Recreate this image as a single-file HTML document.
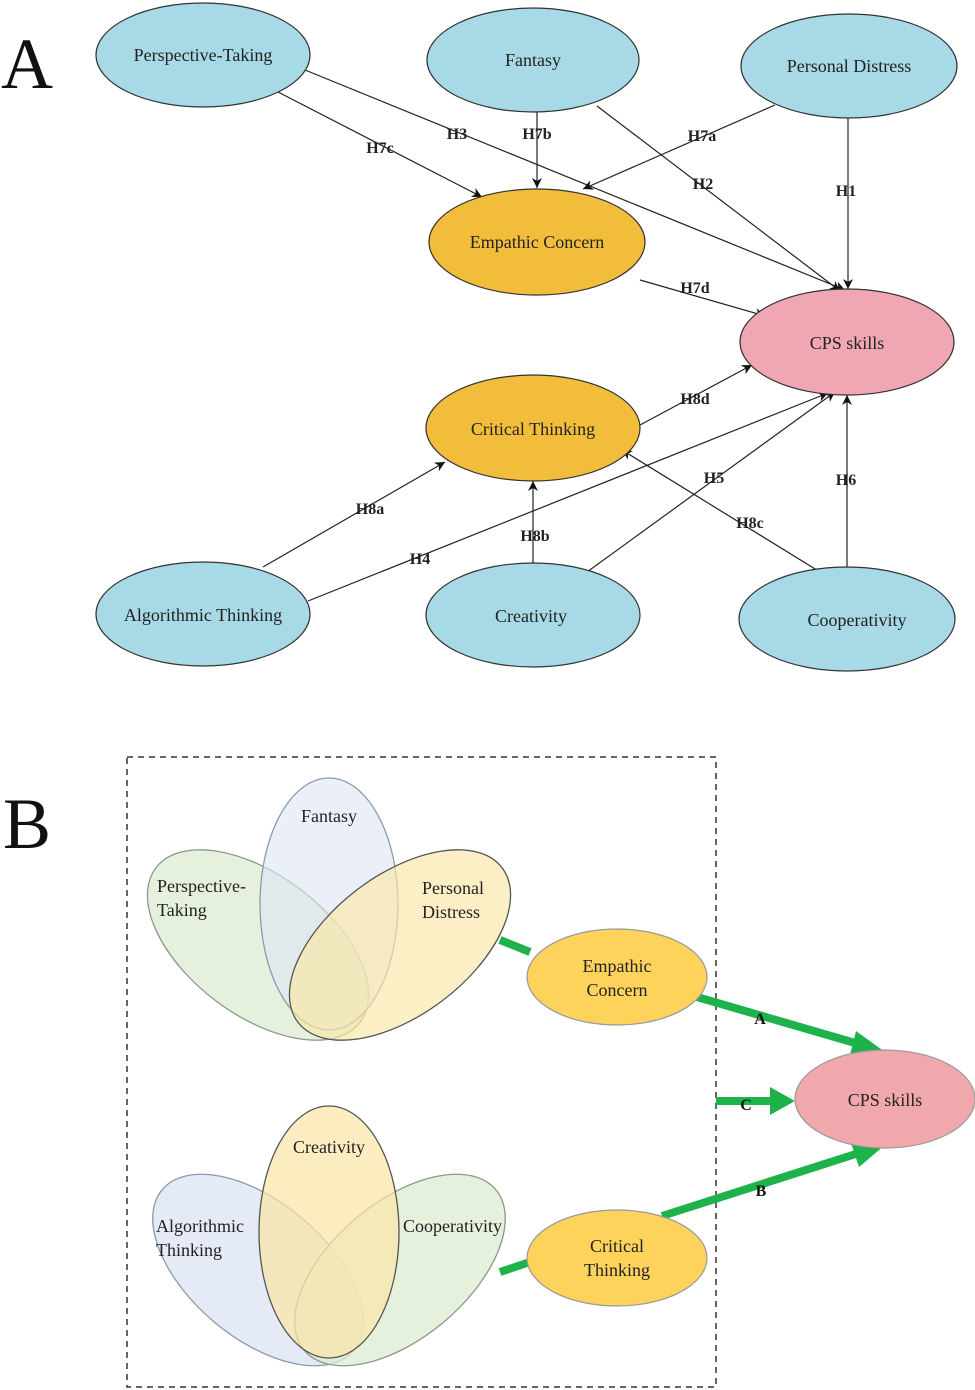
<!DOCTYPE html>
<html><head><meta charset="utf-8"><style>
html,body{margin:0;padding:0;background:#fff;}
svg{display:block;}
text{font-family:"Liberation Serif",serif;}
</style></head><body>
<svg width="975" height="1390" viewBox="0 0 975 1390" xmlns="http://www.w3.org/2000/svg">
<defs>
<marker id="ar" viewBox="0 0 10 10" refX="10" refY="5" markerWidth="10" markerHeight="10" markerUnits="userSpaceOnUse" orient="auto">
<path d="M0,0 L10,5 L0,10 L3,5 z" fill="#111"/>
</marker>
</defs>
<text x="27" y="88" font-size="72" text-anchor="middle" fill="#111">A</text>
<text x="27" y="848" font-size="72" text-anchor="middle" fill="#111">B</text>

<g stroke="#222" stroke-width="1.2" fill="none" marker-end="url(#ar)">
<line x1="278" y1="92" x2="482" y2="197"/>
<line x1="305" y1="70" x2="845" y2="290"/>
<line x1="537" y1="112" x2="537" y2="188"/>
<line x1="597" y1="106" x2="840" y2="291"/>
<line x1="775" y1="105" x2="583" y2="189"/>
<line x1="848" y1="118" x2="848" y2="289"/>
<line x1="640" y1="280" x2="765" y2="316"/>
<line x1="640" y1="425" x2="752" y2="365"/>
<line x1="308" y1="601" x2="828" y2="393"/>
<line x1="587" y1="572" x2="835" y2="392"/>
<line x1="847" y1="568" x2="847" y2="395"/>
<line x1="820" y1="572" x2="622" y2="450"/>
<line x1="533" y1="563" x2="533" y2="481"/>
<line x1="263" y1="567" x2="445" y2="462"/>
</g>

<g stroke="#333" stroke-width="1.2">
<ellipse cx="203" cy="55" rx="107" ry="52" fill="#a7d9e6"/>
<ellipse cx="533" cy="60" rx="106" ry="52" fill="#a7d9e6"/>
<ellipse cx="849" cy="66" rx="108" ry="52" fill="#a7d9e6"/>
<ellipse cx="537" cy="242" rx="108" ry="53" fill="#f2bd3b"/>
<ellipse cx="847" cy="342" rx="107" ry="53" fill="#f0a7b3"/>
<ellipse cx="533" cy="428" rx="107" ry="53" fill="#f2bd3b"/>
<ellipse cx="203" cy="614" rx="107" ry="52" fill="#a7d9e6"/>
<ellipse cx="533" cy="615" rx="107" ry="52" fill="#a7d9e6"/>
<ellipse cx="847" cy="619" rx="108" ry="52" fill="#a7d9e6"/>
</g>
<g font-size="18" text-anchor="middle" fill="#222">
<text x="203" y="61">Perspective-Taking</text>
<text x="533" y="66">Fantasy</text>
<text x="849" y="72">Personal Distress</text>
<text x="537" y="248">Empathic Concern</text>
<text x="847" y="349">CPS skills</text>
<text x="533" y="435">Critical Thinking</text>
<text x="203" y="621">Algorithmic Thinking</text>
<text x="531" y="622">Creativity</text>
<text x="857" y="626">Cooperativity</text>
</g>
<g font-size="16" font-weight="bold" text-anchor="middle" fill="#222">
<text x="380" y="153">H7c</text>
<text x="457" y="139">H3</text>
<text x="537" y="139">H7b</text>
<text x="702" y="141">H7a</text>
<text x="703" y="189">H2</text>
<text x="846" y="196">H1</text>
<text x="695" y="293">H7d</text>
<text x="695" y="404">H8d</text>
<text x="714" y="483">H5</text>
<text x="846" y="485">H6</text>
<text x="370" y="514">H8a</text>
<text x="750" y="528">H8c</text>
<text x="535" y="541">H8b</text>
<text x="420" y="564">H4</text>
</g>

<!-- Part B -->
<rect x="127" y="757" width="589" height="630" fill="none" stroke="#333" stroke-width="1.5" stroke-dasharray="6,5"/>

<g stroke-width="1.3">
<ellipse cx="258" cy="945" rx="128" ry="70" transform="rotate(37 258 945)" fill="#dcecd0" fill-opacity="0.75" stroke="#8a9a88"/>
<ellipse cx="329" cy="904" rx="69" ry="126" fill="#dde6f4" fill-opacity="0.6" stroke="#8a9ab0"/>
<ellipse cx="400" cy="945" rx="128" ry="70" transform="rotate(-37 400 945)" fill="#fbe6a6" fill-opacity="0.65" stroke="#555"/>

<ellipse cx="258" cy="1270" rx="125" ry="68" transform="rotate(40 258 1270)" fill="#dde6f4" fill-opacity="0.8" stroke="#8a9ab0"/>
<ellipse cx="400" cy="1270" rx="125" ry="68" transform="rotate(-40 400 1270)" fill="#dcecd0" fill-opacity="0.75" stroke="#8a9a88"/>
<ellipse cx="329" cy="1232" rx="70" ry="126" fill="#fbe6a6" fill-opacity="0.7" stroke="#555"/>
</g>

<g stroke="#1db34a" stroke-width="8" fill="#1db34a">
<line x1="500" y1="940" x2="530" y2="952"/>
<line x1="500" y1="1272" x2="530" y2="1262"/>
<line x1="697" y1="997" x2="862" y2="1045"/>
<line x1="716" y1="1101" x2="775" y2="1101"/>
<line x1="662" y1="1216" x2="862" y2="1152"/>
</g>
<g fill="#1db34a">
<polygon points="885,1052 856,1031 849,1059"/>
<polygon points="795,1101 770,1087 770,1115"/>
<polygon points="885,1145 850,1140 859,1167"/>
</g>

<g stroke="#999" stroke-width="1.2">
<ellipse cx="617" cy="977" rx="90" ry="48" fill="#fdd35c"/>
<ellipse cx="885" cy="1099" rx="90" ry="49" fill="#f0a8ad"/>
<ellipse cx="617" cy="1258" rx="90" ry="48" fill="#fdd35c"/>
</g>

<g font-size="18" text-anchor="middle" fill="#222">
<text x="329" y="822">Fantasy</text>
<text x="157" y="892" text-anchor="start">Perspective-</text>
<text x="157" y="916" text-anchor="start">Taking</text>
<text x="422" y="894" text-anchor="start">Personal</text>
<text x="422" y="918" text-anchor="start">Distress</text>
<text x="617" y="972">Empathic</text>
<text x="617" y="996">Concern</text>
<text x="885" y="1106">CPS skills</text>
<text x="329" y="1153">Creativity</text>
<text x="156" y="1232" text-anchor="start">Algorithmic</text>
<text x="156" y="1256" text-anchor="start">Thinking</text>
<text x="403" y="1232" text-anchor="start">Cooperativity</text>
<text x="617" y="1252">Critical</text>
<text x="617" y="1276">Thinking</text>
</g>
<g font-size="16" font-weight="bold" text-anchor="middle" fill="#111">
<text x="760" y="1024">A</text>
<text x="746" y="1110">C</text>
<text x="761" y="1196">B</text>
</g>
</svg>
</body></html>
